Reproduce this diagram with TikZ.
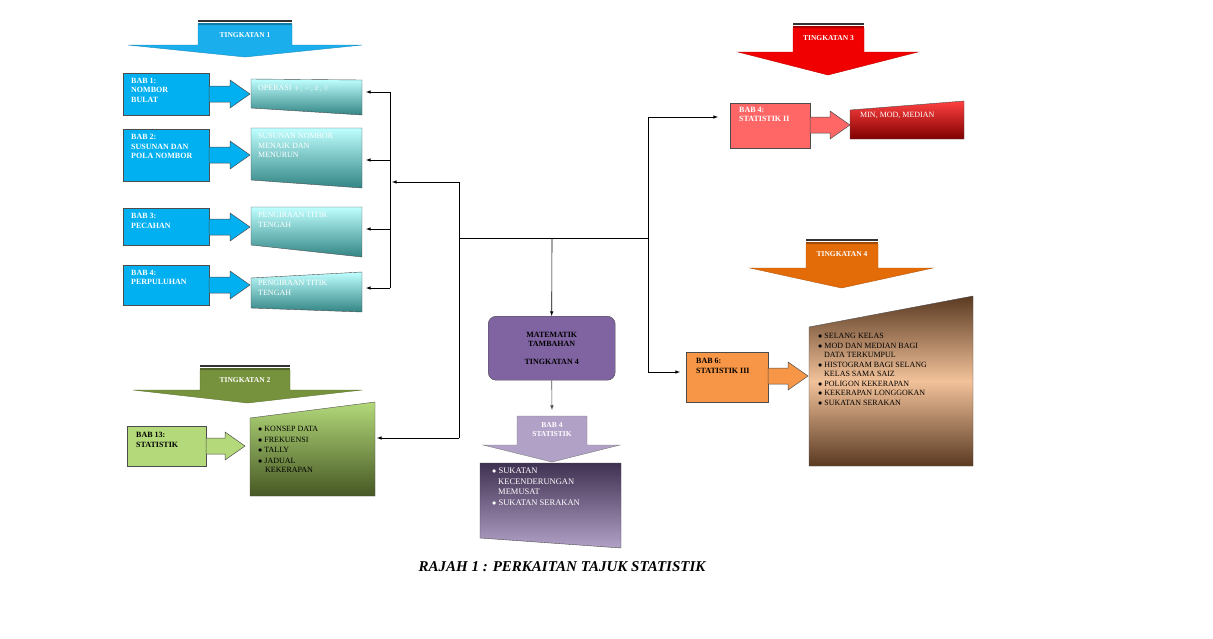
\documentclass[tikz,border=0pt]{standalone}
\usepackage{fontspec}
\setmainfont{Liberation Serif}
\definecolor{bnA}{HTML}{1AAEEC}
\definecolor{bnB}{HTML}{76923C}
\definecolor{bnC}{HTML}{F00000}
\definecolor{bnD}{HTML}{E36C09}
\definecolor{bblue}{HTML}{00B0F0}
\definecolor{lgreen}{HTML}{B3D97A}
\definecolor{lpurp}{HTML}{B2A1C7}
\definecolor{mpurp}{HTML}{8064A2}
\definecolor{dpurp}{HTML}{3F3151}
\definecolor{lred}{HTML}{FF6666}
\definecolor{lor}{HTML}{F79646}
\definecolor{tan}{HTML}{F2C29A}
\definecolor{dbrown}{HTML}{5A3A22}
\begin{document}
\begin{tikzpicture}[x=1pt,y=-1pt,
  lbl/.style={font=\fontsize{8}{9.5}\selectfont, align=left, anchor=north west, inner sep=0pt},
  wlbl/.style={lbl, text=white},
  blbl/.style={lbl, font=\fontsize{8}{9.5}\selectfont\bfseries},
  bab/.style={draw=black!70, line width=0.5pt, anchor=north west, inner sep=0pt},
  conn/.style={-latex, line width=0.6pt},
  ln/.style={line width=0.6pt}]
\useasboundingbox (0,0) rectangle (1213,638);
\newcommand\barrowx[4]{\filldraw[fill=#4,draw=black!70,line width=0.5pt] (#1,#3-8)--(#2-20,#3-8)--(#2-20,#3-14)--(#2,#3)--(#2-20,#3+14)--(#2-20,#3+8)--(#1,#3+8)--cycle;}
\newcommand\bannerx[9]{%
 \fill[black!80] (#1,#3-5) rectangle (#2,#3-3.5);
 \fill[#8!70!black] (#1,#3-2.5) rectangle (#2,#3);
 \filldraw[fill=#8,draw=#8!80!black,line width=0.4pt] (#1,#3)--(#2,#3)--(#2,#4)--(#6,#4)--({(#5+#6)/2},#7)--(#5,#4)--(#1,#4)--cycle;
 \node[font=\fontsize{7.5}{9}\selectfont\bfseries,text=white] at ({(#1+#2)/2},{#3+10}) {#9};}
% banners
\bannerx{198}{292}{25}{45}{128}{362}{57}{bnA}{TINGKATAN 1}
\bannerx{200}{290}{370}{390}{133}{362}{403}{bnB}{TINGKATAN 2}
\bannerx{793}{864}{28}{52}{738}{918}{75}{bnC}{TINGKATAN 3}
\bannerx{806}{878}{244}{268}{750}{933}{288}{bnD}{TINGKATAN 4}
% left blue column
\foreach \n/\y/\h/\t in {a/73/42/{BAB 1:\\NOMBOR\\BULAT},b/129/52/{BAB 2:\\SUSUNAN DAN\\POLA NOMBOR},c/208/37/{BAB 3:\\PECAHAN},d/265/40/{BAB 4:\\PERPULUHAN}}{
  \node[bab,fill=bblue,minimum width=86pt,minimum height=\h pt] (\n) at (123,\y) {};
  \node[blbl,text=white] at (131,\y+5) {\t};
}
\barrowx{209}{250}{94}{bblue}
\barrowx{209}{250}{155}{bblue}
\barrowx{209}{250}{227}{bblue}
\barrowx{209}{250}{285}{bblue}
\foreach \a/\b/\c/\d in {79/80/115/108,128/128/188/180,207/207/257/245,278/272/312/308}{
  \shade[top color=cyan!25,bottom color=cyan!40!black!80,draw=black!70] (251,\a)--(362,\b)--(362,\c)--(251,\d)--cycle;}
\node[wlbl] (oa) at (258,85) {OPERASI $+,-,x,\div$};
\node[wlbl] (ob) at (258,133) {SUSUNAN NOMBOR\\MENAIK DAN\\MENURUN};
\node[wlbl] (oc) at (258,212) {PENGIRAAN TITIK\\TENGAH};
\node[wlbl] (od) at (258,280) {PENGIRAAN TITIK\\TENGAH};
% connectors left
\coordinate (v1) at (390,92); \coordinate (v4) at (390,288);
\draw[ln] (v1)--(v4);
\foreach \y in {92,160,229,288}{\coordinate (t\y) at (366,\y); \draw[conn] (390,\y)--(t\y);}
\coordinate (j1) at (459,182); \coordinate (j2) at (459,438); \coordinate (j3) at (459,238);
\coordinate (k1) at (648,117); \coordinate (k2) at (648,372); \coordinate (k3) at (648,238);
\draw[conn] (j1)--(392,182);
\draw[ln] (j1)--(j2);
\draw[conn] (j2)--(377,438);
\draw[ln] (j3)--(k3);
\draw[ln] (k1)--(k2);
\draw[conn] (k1)--(718,117);
\draw[conn] (k2)--(680,372);
% green
\node[bab,fill=lgreen,minimum width=79pt,minimum height=40pt] (g) at (127,426) {};
\node[blbl] at (136,432) {BAB 13:\\STATISTIK};
\barrowx{206}{245}{446}{lgreen}
\shade[top color=lgreen,bottom color=bnB!60!black,draw=black!70] (250,418)--(375,402)--(375,496)--(250,496)--cycle;
\node[lbl] (gk) at (258,426) {$\bullet$ KONSEP DATA\\[1pt]$\bullet$ FREKUENSI\\[1pt]$\bullet$ TALLY\\[1pt]$\bullet$ JADUAL\\\hspace*{7pt}KEKERAPAN};
% purple center
\node[draw=black!70,fill=mpurp,rounded corners=8pt,minimum width=127pt,minimum height=64pt,anchor=north west,inner sep=0pt] (mt) at (488,316) {};
\node[font=\fontsize{8}{9.5}\selectfont\bfseries,align=center] at (mt.center) {MATEMATIK\\TAMBAHAN\\[8pt]TINGKATAN 4};
\coordinate (j4) at (552,238);
\draw[conn] (j4)--(mt.north);
\draw[conn,black!70] (mt.south)--(552,410);
\filldraw[fill=lpurp,draw=black!50] (517,416)--(587,416)--(587,445)--(620,445)--(552,462)--(483,445)--(517,445)--cycle;
\node[font=\fontsize{7.5}{9}\selectfont\bfseries,text=white,align=center] at (552,430) {BAB 4\\STATISTIK};
\shade[top color=dpurp,bottom color=lpurp,draw=black!70] (480,463)--(621,463)--(621,548)--(480,538)--cycle;
\node[wlbl,font=\fontsize{8.5}{10.5}\selectfont] (sk) at (492,468) {$\bullet$ SUKATAN\\\hspace*{6pt}KECENDERUNGAN\\\hspace*{6pt}MEMUSAT\\$\bullet$ SUKATAN SERAKAN};
% red
\node[bab,fill=lred,minimum width=80pt,minimum height=45pt] (r) at (730,103) {};
\node[blbl,text=white] at (739,107) {BAB 4:\\STATISTIK II};
\barrowx{810}{850}{125}{lred}
\shade[top color=red!75,bottom color=red!50!black,draw=black!70] (850,110)--(964,101)--(964,139)--(850,139)--cycle;
\node[wlbl] (mn) at (860,112) {MIN, MOD, MEDIAN};
% orange
\node[bab,fill=lor,minimum width=82pt,minimum height=50pt] (o) at (686,352) {};
\node[blbl] at (696,358) {BAB 6:\\STATISTIK III};
\barrowx{768}{808}{376}{lor}
\shade[top color=dbrown,bottom color=dbrown,middle color=tan,draw=black!70] (809,327)--(973,296)--(973,466)--(809,466)--cycle;
\node[lbl] (bk) at (818,333) {$\bullet$ SELANG KELAS\\$\bullet$ MOD DAN MEDIAN BAGI\\\hspace*{6pt}DATA TERKUMPUL\\$\bullet$ HISTOGRAM BAGI SELANG\\\hspace*{6pt}KELAS SAMA SAIZ\\$\bullet$ POLIGON KEKERAPAN\\$\bullet$ KEKERAPAN LONGGOKAN\\$\bullet$ SUKATAN SERAKAN};
% caption
\node[font=\fontsize{15}{18}\selectfont\bfseries\itshape] (cap) at (562,567) {RAJAH 1 : PERKAITAN TAJUK STATISTIK};
\end{tikzpicture}
\end{document}
